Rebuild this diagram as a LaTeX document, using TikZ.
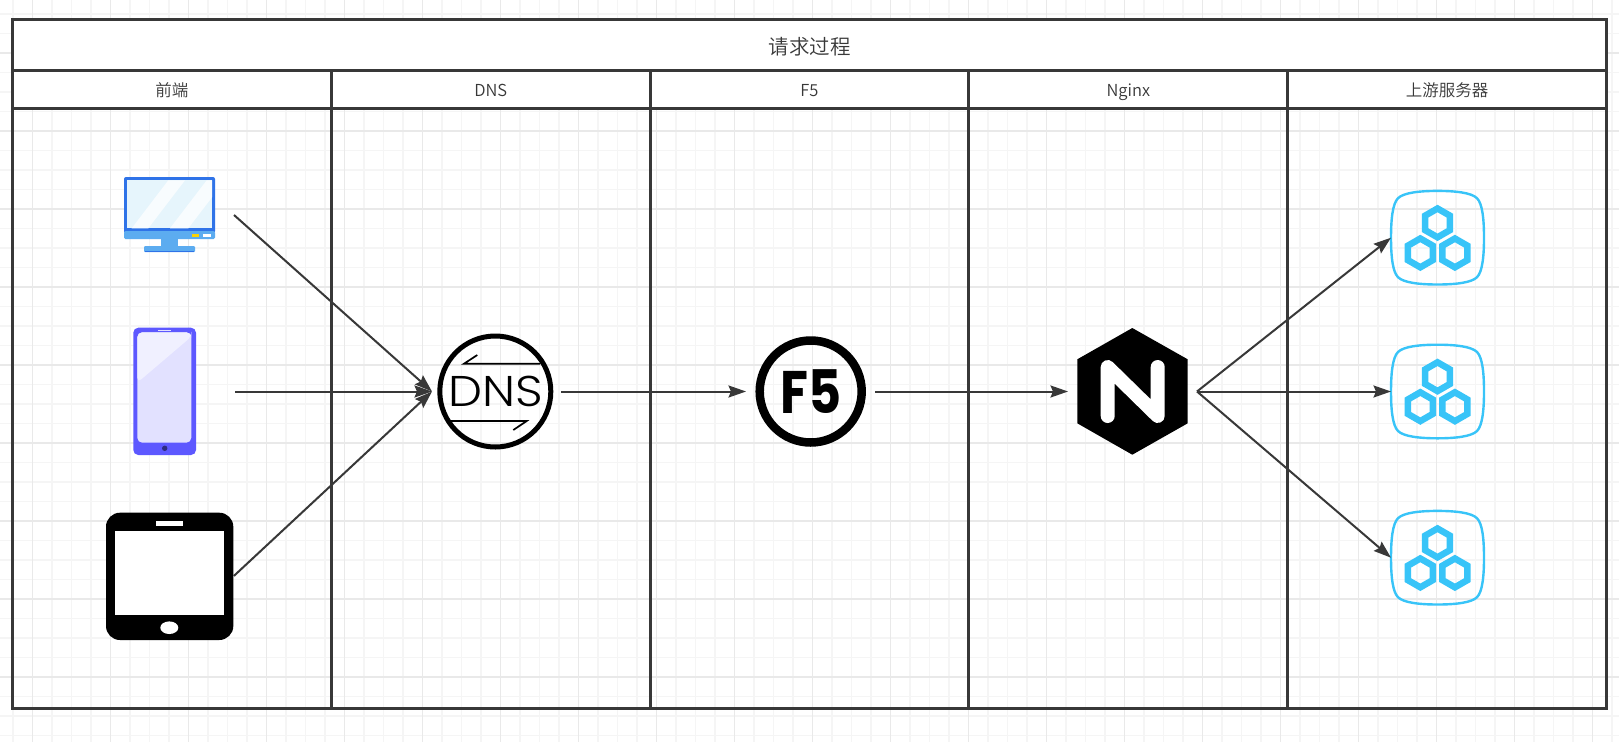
\documentclass[tikz,border=0pt]{standalone}
\usepackage{fontspec}
\setmainfont{Liberation Sans}
\newfontfamily\cjk{Noto Sans CJK SC DemiLight}
\newfontfamily\dnsfont{Poppins Light}
\newfontfamily\ffont{Poppins Bold}
\usetikzlibrary{arrows.meta}
\definecolor{lanecol}{HTML}{383838}
\definecolor{gridminor}{HTML}{F5F5F5}
\definecolor{gridmajor}{HTML}{E9E9E9}
\definecolor{hexcol}{HTML}{38C4F8}
\definecolor{screenblue}{HTML}{2F73E8}
\definecolor{screenpale}{HTML}{E6F5FC}
\definecolor{screenglow}{HTML}{F8FCFE}
\definecolor{basecol}{HTML}{5CACF0}
\definecolor{phonecol}{HTML}{5D58FF}
\tikzset{
	lanebox/.style={draw=lanecol,line width=3pt,outer sep=0pt,inner sep=0pt,minimum width=318.8pt},
	headbox/.style={lanebox,fill=white,minimum height=38pt,text=lanecol,text height=14.5pt,text depth=1.5pt,font=\cjk\fontsize{16.5}{18}\selectfont},
	iconbox/.style={inner sep=0pt,outer sep=0pt,minimum width=129pt,minimum height=129pt},
	flow/.style={-{Stealth[length=17.5pt,width=12pt,inset=2.5pt]},line width=2pt,draw=lanecol},
	gridline/.style={line width=1.4pt},
	serverpic/.pic={
		\draw[hexcol,line width=2.4pt] (0,-46.8) .. controls (18,-46.8) and (34,-45) .. (39.5,-39.5) .. controls (45,-34) and (46.5,-18) .. (46.5,0) .. controls (46.5,18) and (45,34) .. (39.5,39.5) .. controls (34,45) and (18,46.8) .. (0,46.8) .. controls (-18,46.8) and (-34,45) .. (-39.5,39.5) .. controls (-45,34) and (-46.5,18) .. (-46.5,0) .. controls (-46.5,-18) and (-45,-34) .. (-39.5,-39.5) .. controls (-34,-45) and (-18,-46.8) .. (0,-46.8) -- cycle;
		\foreach \hx/\hy in {0/-14.8,-17.2/15.2,17.4/15.2}
			\draw[hexcol,line width=6.5pt,shift={(\hx,\hy)}] (30:14.4)--(90:14.4)--(150:14.4)--(210:14.4)--(270:14.4)--(330:14.4)--cycle;
	}
}
\begin{document}
\begin{tikzpicture}[x=1pt,y=-1pt]
\useasboundingbox (0,0) rectangle (1619,742);
\fill[white] (0,0) rectangle (1619,742);
\foreach \i in {0,...,83}
	\draw[gridminor,gridline] ({-6.7+19.5*\i},0)--({-6.7+19.5*\i},742);
\foreach \i in {0,...,38}
	\draw[gridminor,gridline] (0,{14+19.5*\i})--(1619,{14+19.5*\i});
\foreach \i in {0,...,20}
	\draw[gridmajor,gridline] ({32.3+78*\i},0)--({32.3+78*\i},742);
\foreach \i in {0,...,9}
	\draw[gridmajor,gridline] (0,{-25+78*\i})--(1619,{-25+78*\i});

\node[lanebox,fill=white,minimum width=1594pt,minimum height=51pt,text=lanecol,text height=20pt,text depth=1pt,font=\cjk\fontsize{20.5}{22}\selectfont] (title) at (809.5,45) {请求过程};
\foreach \i/\lab in {0/前端,1/DNS,2/F5,3/Nginx,4/上游服务器} {
	\node[headbox] (head\i) at ({171.9+318.8*\i},89.5) {\lab};
	\node[lanebox,minimum height=599.5pt] (body\i) at ({171.9+318.8*\i},408.25) {};
}

\node[iconbox] (monitor) at (169.5,215) {};
\fill[rounded corners=2pt,screenblue] (124,177) rectangle (215,233);
\fill[screenpale] (127,180.3) rectangle (212,228.3);
\fill[screenglow] (131.7,228.3)--(168.3,180.3)--(185,180.3)--(148.3,228.3)--cycle;
\fill[screenglow] (170,228.3)--(206.7,180.3)--(212,180.3)--(212,197.3)--(188.3,228.3)--cycle;
\fill[rounded corners=1.5pt,basecol] (124,231)--(215,231)--(215,239)--(124,239)--cycle;
\fill[basecol] (161,239) rectangle (178.3,246);
\fill[rounded corners=1pt,basecol] (144,246) rectangle (195,252);
\fill[screenblue] (145,250.5) rectangle (194,252);
\fill[yellow!70!orange] (192,234) rectangle (199,236.5);
\fill[white] (203,234) rectangle (210.5,236.5);

\node[iconbox] (phone) at (170.5,391.5) {};
\fill[rounded corners=5pt,phonecol] (133.3,327.7) rectangle (196,455);
\fill[rounded corners=5pt,phonecol!18] (137.3,332.3) rectangle (191.3,442.7);
\fill[rounded corners=5pt,phonecol!9] (137.3,382.7)--(137.3,332.3)--(191.3,332.3)--(191.3,336.7)--cycle;
\fill[phonecol!50!black] (164.7,448.3) circle (2.7);
\fill[phonecol!18] (158.3,329.8) rectangle (171.3,331);

\node[iconbox] (tablet) at (169.3,576) {};
\fill[rounded corners=14pt,black] (106,512.7) rectangle (233.3,640);
\fill[white] (114.7,531.3) rectangle (224.3,614.7);
\fill[white] (155.7,520.7) rectangle (182.7,525.7);
\fill[white] (169.3,627.7) ellipse (9 and 6.3);

\node[iconbox] (dnsbox) at (496.5,391.5) {};
\draw[black,line width=5pt] (495.3,391.5) circle (55.5);
\node[inner sep=0pt,xscale=1.12,font=\dnsfont\fontsize{43}{45}\selectfont] (dnstext) at (495.3,391.5) {DNS};
\draw[black,line width=1.7pt] (477.3,355)--(464,363.7)--(540,363.7);
\draw[black,line width=1.7pt] (450.7,421)--(526.7,421)--(513.3,430);

\node[iconbox] (ffive) at (810.5,391.5) {};
\draw[black,line width=8.5pt] (810.7,391.5) circle (51);
\node[inner sep=0pt,xscale=.85,font=\ffont\fontsize{60}{62}\selectfont] (fivetext) at (810.7,392) {F5};

\node[iconbox] (nginx) at (1132.5,391.5) {};
\fill[black] (1132.3,328)--(1187.7,359.3)--(1187.7,423.3)--(1132.3,454.7)--(1077.3,423.3)--(1077.3,359.3)--cycle;
\draw[white,line width=14pt,line cap=round,line join=round] (1107.7,416)--(1107.7,367)--(1157.7,416)--(1157.7,367);

\node[iconbox,minimum width=93pt] (serverA) at (1437.5,237.7) {};
\node[iconbox,minimum width=93pt] (serverB) at (1437.5,391.5) {};
\node[iconbox,minimum width=93pt] (serverC) at (1437.5,557.7) {};
\pic at (serverA) {serverpic};
\pic at (serverB) {serverpic};
\pic at (serverC) {serverpic};

\draw[flow] (monitor.east)--(dnsbox.west);
\draw[flow] (phone.east)--(dnsbox.west);
\draw[flow] (tablet.east)--(dnsbox.west);
\draw[flow] (dnsbox.east)--(ffive.west);
\draw[flow] (ffive.east)--(nginx.west);
\draw[flow] (nginx.east)--(serverA.west);
\draw[flow] (nginx.east)--(serverB.west);
\draw[flow] (nginx.east)--(serverC.west);
\end{tikzpicture}
\end{document}
